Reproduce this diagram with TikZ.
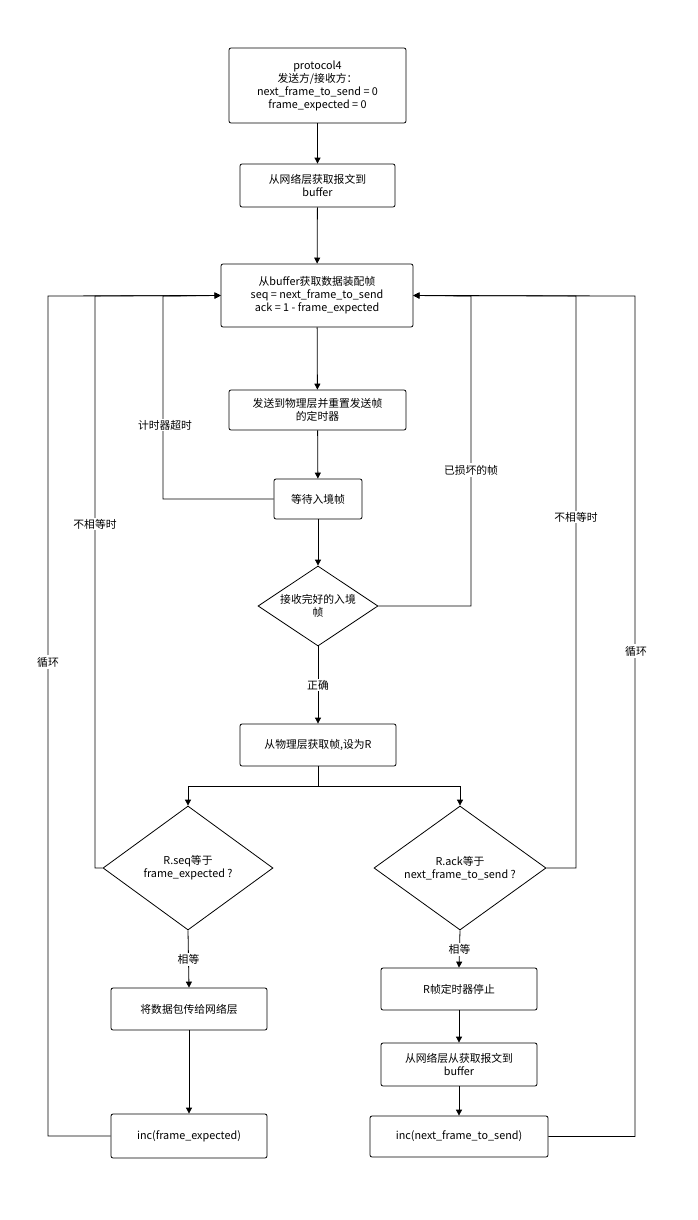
\documentclass[tikz,border=0pt]{standalone}
\usepackage{fontspec}
\setmainfont{Noto Sans CJK SC}
\usetikzlibrary{shapes.geometric,arrows.meta}
\begin{document}
\begin{tikzpicture}[x=1pt,y=-1pt,font=\fontsize{10.8}{13}\selectfont,
 box/.style={draw,thick,rounded corners=2pt,align=center,inner sep=0pt},
 dia/.style={draw,thick,diamond,aspect=1.4,align=center,inner sep=0pt},
 ar/.style={thick,-{Triangle[length=6pt,width=6pt]}},
 lab/.style={fill=white,inner sep=1.5pt}]
\useasboundingbox (0,0) rectangle (698,1220);
\node[box,minimum width=177pt,minimum height=75pt] (n1) at (317.5,85.5) {protocol4\\发送方/接收方：\\next\_frame\_to\_send = 0\\frame\_expected = 0};
\node[box,minimum width=155pt,minimum height=43pt] (n2) at (317.5,185.5) {从网络层获取报文到\\buffer};
\node[box,minimum width=192pt,minimum height=63pt] (n3) at (317,295.5) {从buffer获取数据装配帧\\seq = next\_frame\_to\_send\\ack = 1 - frame\_expected};
\node[box,minimum width=177pt,minimum height=40pt] (n4) at (317.5,410) {发送到物理层并重置发送帧\\的定时器};
\node[box,minimum width=88pt,minimum height=40pt] (n5) at (318,499) {等待入境帧};
\node[dia,minimum width=120pt,minimum height=80pt,aspect=1.5] (d1) at (318,606) {接收完好的入境\\帧};
\node[box,minimum width=156pt,minimum height=42pt] (n6) at (318,745) {从物理层获取帧,设为R};
\node[dia,minimum width=170pt,minimum height=124pt,aspect=1.37] (d2) at (188,868) {R.seq等于\\frame\_expected ?};
\node[dia,minimum width=172pt,minimum height=124pt,aspect=1.39] (d3) at (460,868) {R.ack等于\\next\_frame\_to\_send ?};
\node[box,minimum width=156pt,minimum height=42pt] (n7) at (189,1009) {将数据包传给网络层};
\node[box,minimum width=156pt,minimum height=42pt] (n8) at (459,989) {R帧定时器停止};
\node[box,minimum width=156pt,minimum height=43pt] (n9) at (459,1064.5) {从网络层从获取报文到\\buffer};
\node[box,minimum width=156pt,minimum height=44pt] (n10) at (189,1136) {inc(frame\_expected)};
\node[box,minimum width=178pt,minimum height=41pt] (n11) at (459,1136.5) {inc(next\_frame\_to\_send)};
\draw[ar] (n1) -- (n2);
\draw[ar] (n2) -- (n3);
\draw[ar] (n3) -- (n4);
\draw[ar] (n4) -- (n5);
\draw[ar] (n5) -- (d1);
\draw[ar] (n5.west) -| (163,296) -- (n3.west);
\node[lab] (l1) at (165,425) {计时器超时};
\draw[ar] (d1.east) -| (471,296) -- (n3.east);
\node[lab] (l2) at (471,470) {已损坏的帧};
\draw[ar] (d1.south) -- node[lab]{正确} (n6.north);
\draw[ar] (n6.south) -- (318,786) -| (d2.north);
\draw[ar] (318,786) -| (d3.north);
\draw[ar] (d2.west) -| (95,296) -- (n3.west);
\node[lab] (l3) at (95,524) {不相等时};
\draw[ar] (n10.west) -| (48,296) -- (n3.west);
\node[lab] (l4) at (48,662) {循环};
\draw[ar] (d2.south) -- node[lab]{相等} (n7.north);
\draw[ar] (n7) -- (n10);
\draw[ar] (d3.east) -| (576,296) -- (n3.east);
\node[lab] (l5) at (576,517) {不相等时};
\draw[ar] (n11.east) -| (635,296) -- (n3.east);
\node[lab] (l6) at (636,651) {循环};
\draw[ar] (d3.south) -- node[lab]{相等} (n8.north);
\draw[ar] (n8) -- (n9);
\draw[ar] (n9) -- (n11);
\end{tikzpicture}
\end{document}
